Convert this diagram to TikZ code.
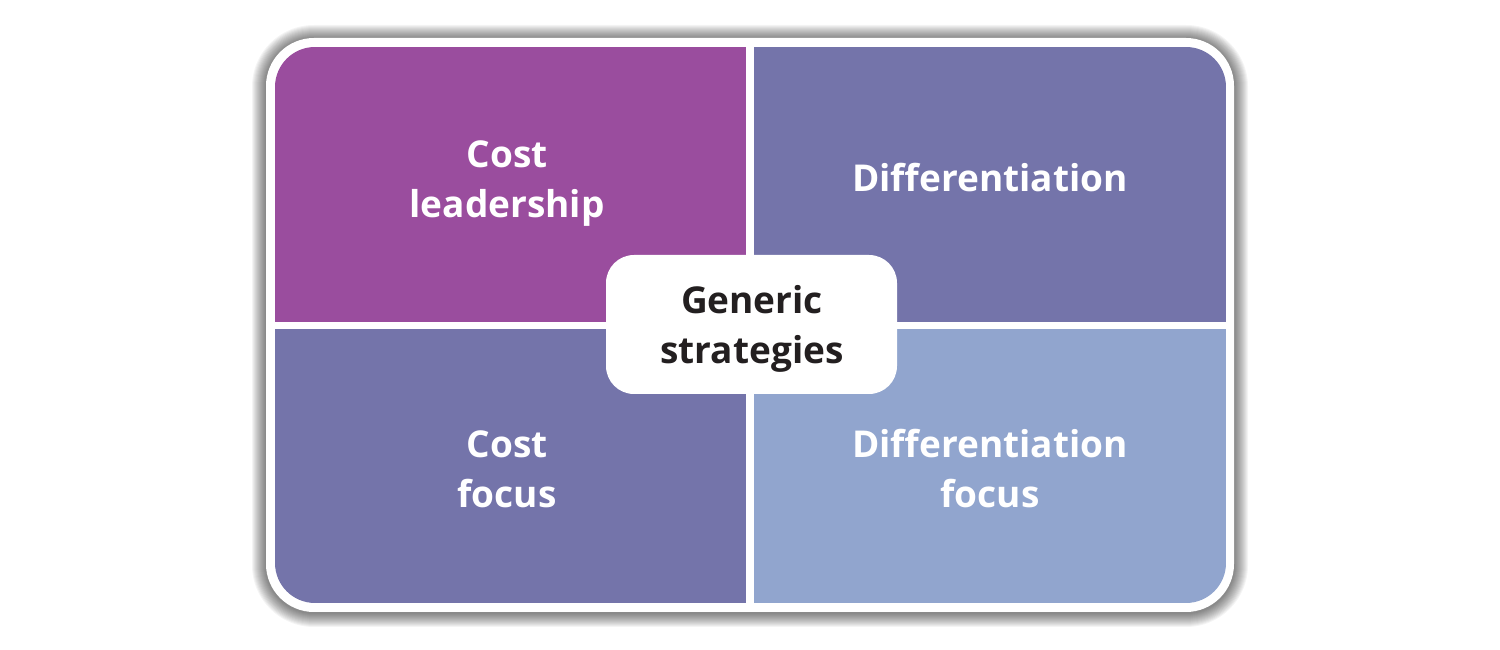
\documentclass[tikz,border=0pt]{standalone}
\usepackage{fontspec}
\setmainfont{Open Sans}
\definecolor{qpurple}{RGB}{154,77,158}
\definecolor{qviolet}{RGB}{116,116,170}
\definecolor{qlight}{RGB}{145,165,206}
\definecolor{qdark}{RGB}{35,31,32}
\tikzset{
  quadlabel/.style={font=\fontsize{37}{50}\selectfont\bfseries, text=white, align=center},
  centerlabel/.style={font=\fontsize{37}{50}\selectfont\bfseries, text=qdark, align=center},
}
\begin{document}
\begin{tikzpicture}[x=1pt,y=1pt]
\useasboundingbox (0,0) rectangle (1500,650);
% shadow glow
\foreach \i in {1,...,14}{
  \fill[black, opacity=0.045, rounded corners={48pt+\i pt}]
    ({266-\i},{38-\i-1}) rectangle ({1234+\i},{612+\i-1});
}
% outer white frame
\fill[white, rounded corners=48pt] (266,38) rectangle (1234,612);
% quadrants clipped to inner rounded rectangle
\begin{scope}
  \clip[rounded corners=40pt] (275,47) rectangle (1226,603);
  \fill[qpurple] (275,328) rectangle (746,603);
  \fill[qviolet] (754,328) rectangle (1226,603);
  \fill[qviolet] (275,47) rectangle (746,321);
  \fill[qlight] (754,47) rectangle (1226,321);
\end{scope}
% center box
\fill[white, rounded corners=28pt] (606,256) rectangle (897,395);
% labels
\node[quadlabel] (tl) at (507,466) {Cost\\leadership};
\node[quadlabel] (tr) at (990,472) {Differentiation};
\node[quadlabel] (bl) at (507,181) {Cost\\focus};
\node[quadlabel] (br) at (990,181) {Differentiation\\focus};
\node[centerlabel] (c) at (752,321) {Generic\\strategies};
\end{tikzpicture}
\end{document}
